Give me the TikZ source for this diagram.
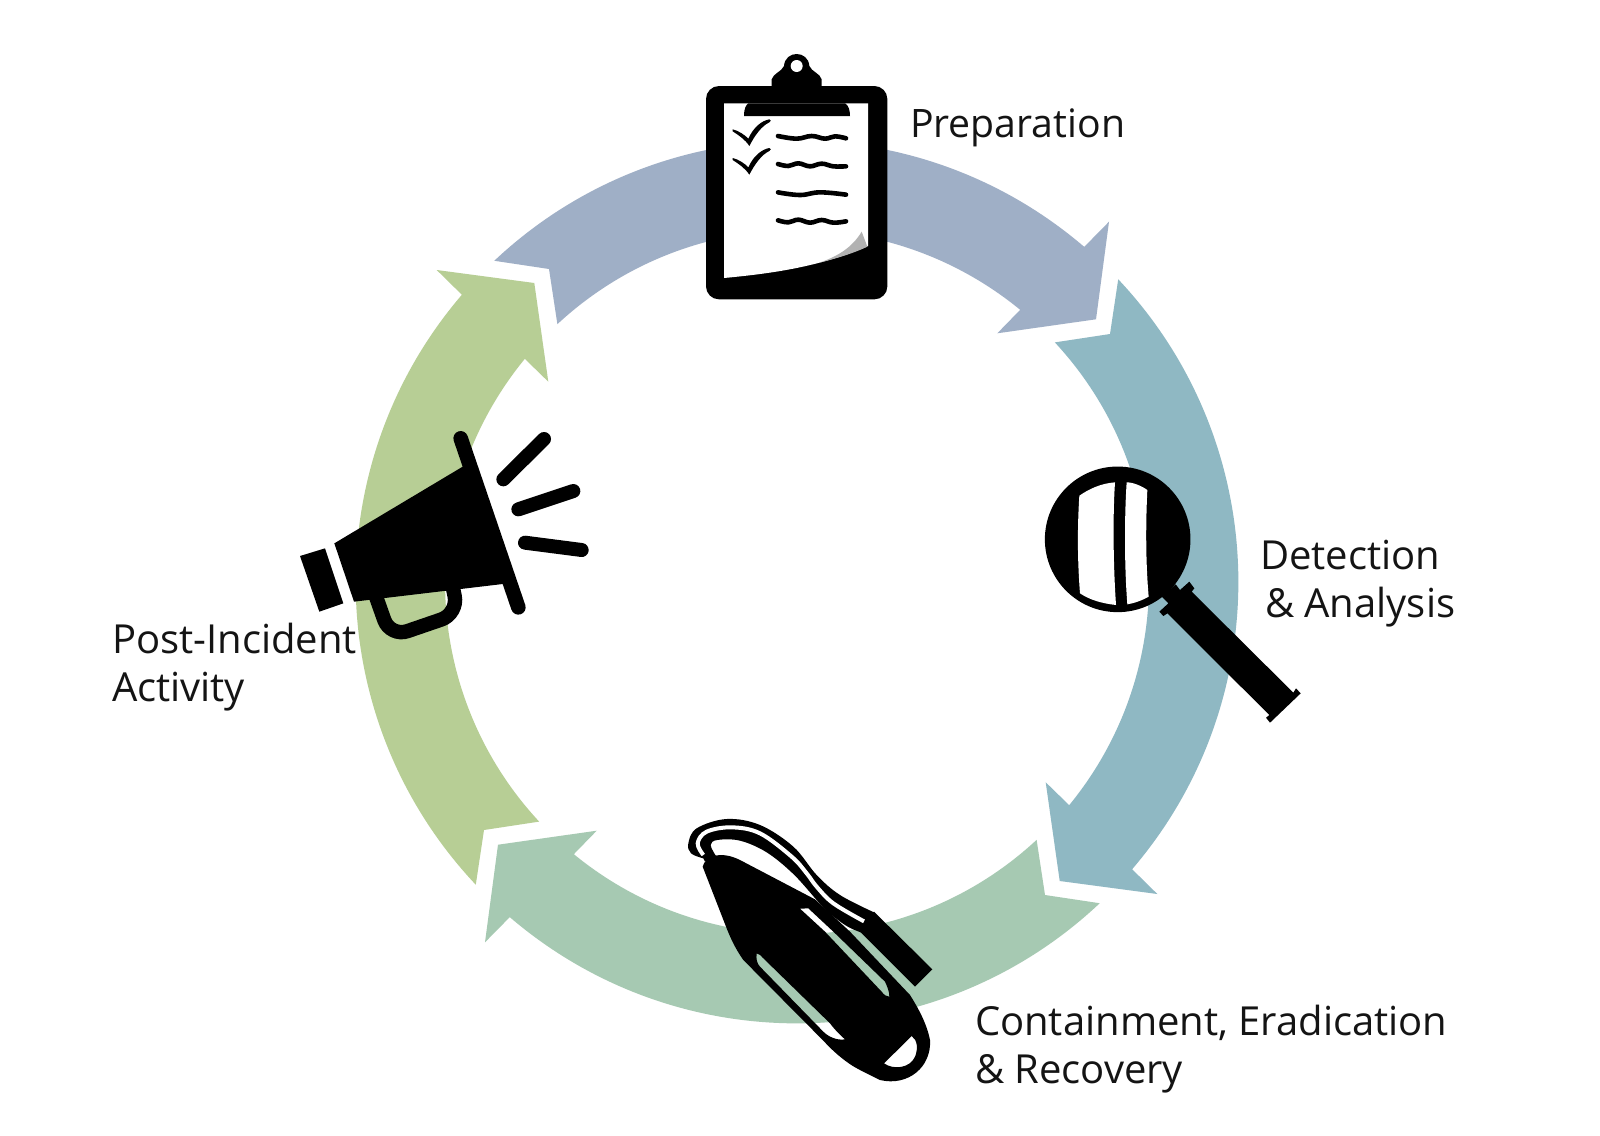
\documentclass[tikz,border=0pt]{standalone}
\usepackage{fontspec}
\setmainfont{Open Sans}
\definecolor{cblue}{HTML}{9FAFC6}
\definecolor{cteal}{HTML}{8FB8C3}
\definecolor{cmint}{HTML}{A6C9B2}
\definecolor{colive}{HTML}{B7CE95}
\tikzset{
  lbl/.style={inner sep=0pt,outer sep=0pt,text=black!92,font=\fontsize{20}{24}\selectfont},
  crop/.style={x=0.166667pt,y=-0.166667pt},
  wave/.style={draw=black,line width=2.3pt,line cap=round,line join=round},
  ray/.style={draw=black,line width=7pt,line cap=round},
}
\newcommand{\ringarrow}[2]{%
  \fill[#2,rotate=#1] (133.3:220.7pt) arc[start angle=133.3,end angle=49.4,radius=220.7pt]
    -- (312,360.3) -- (299,262.7) -- (200.3,248.7) -- (50.65:176pt)
    arc[start angle=50.65,end angle=132.9,radius=176pt] -- (-248,313) -- cycle;}
\begin{document}
\begin{tikzpicture}[x=0.5pt,y=-0.5pt]
\useasboundingbox (0,0) rectangle (1600,1135);
\fill[white] (0,0) rectangle (1600,1135);
% ring
\begin{scope}[shift={(797,582)},y=0.5pt]
  \ringarrow{0}{cblue}
  \ringarrow{-90}{cteal}
  \ringarrow{-180}{cmint}
  \ringarrow{-270}{colive}
\end{scope}
% clipboard
\begin{scope}[shift={(680,40)},crop]
  \fill[black,rounded corners=6.5pt] (78,138) rectangle (622,778);
  \fill[black] (275,140) -- (275,118) .. controls (280,100) and (305,95) .. (312,78)
     .. controls (315,30) and (385,30) .. (388,78)
     .. controls (395,95) and (420,100) .. (425,118) -- (425,140) -- cycle;
  \fill[white] (132,190) -- (564,190) -- (564,618)
     .. controls (420,680) and (280,700) .. (132,714) -- cycle;
  \fill[black!30] (545,575) -- (562,620) .. controls (520,640) and (470,655) .. (418,668)
     .. controls (470,650) and (515,625) .. (545,575) -- cycle;
  \fill[white] (350,78) circle[radius=3pt];
  \fill[black] (192,228) .. controls (192,205) and (198,195) .. (205,190) -- (495,190)
     .. controls (505,195) and (510,210) .. (510,228) -- cycle;
  \foreach \dy in {0,86}{
    \fill[black,yshift=-\dy*0.166667pt] (158,268) .. controls (175,272) and (195,285) .. (205,296)
       .. controls (220,262) and (245,242) .. (268,238)
       .. controls (274,238) and (274,245) .. (268,247)
       .. controls (245,258) and (225,285) .. (208,318)
       .. controls (195,298) and (175,285) .. (158,274) -- cycle;
  }
  \draw[wave] plot[smooth,tension=0.7] coordinates {(294,288) (350,296) (395,288) (435,296) (465,289) (498,295)};
  \draw[wave] plot[smooth,tension=0.7] coordinates {(294,372) (325,378) (355,370) (390,379) (425,371) (460,379) (498,379)};
  \draw[wave] plot[smooth,tension=0.7] coordinates {(294,457) (360,465) (420,457) (498,464)};
  \draw[wave] plot[smooth,tension=0.7] coordinates {(294,541) (325,547) (355,539) (390,548) (425,540) (460,548) (498,544)};
\end{scope}
% magnifier
\begin{scope}[shift={(1030,450)},crop]
  \fill[black] (263,268) circle[radius=36.4pt];
  \fill[black] (437,403) -- (450,420) -- (478,395) -- (493,415) -- (485,425) -- (790,728)
     -- (798,715) -- (812,730) -- (720,818) -- (708,803) -- (718,795) -- (412,490)
     -- (400,498) -- (388,485) -- (415,460) -- (395,440) -- cycle;
  \fill[white] (148,137) .. controls (180,115) and (215,100) .. (255,97)
     .. controls (248,200) and (250,350) .. (258,465)
     .. controls (215,460) and (180,450) .. (150,430)
     .. controls (142,330) and (142,230) .. cycle;
  \fill[white] (290,97) .. controls (310,97) and (335,108) .. (352,120)
     .. controls (347,220) and (347,340) .. (356,440)
     .. controls (335,452) and (310,460) .. (292,463)
     .. controls (283,350) and (283,200) .. cycle;
\end{scope}
% life buoy
\begin{scope}[shift={(660,800)},crop]
  \fill[black,even odd rule] (128,200) .. controls (135,170) and (180,150) .. (240,180)
     -- (465,298) -- (505,335) -- (570,395) -- (750,585)
     .. controls (775,625) and (800,670) .. (810,720)
     .. controls (815,800) and (745,860) .. (660,840)
     -- (600,810) .. controls (560,790) and (520,755) .. (490,722)
     -- (250,480) .. controls (225,445) and (210,410) .. (200,385) -- cycle
     (420,326) -- (445,325) -- (520,395) -- (675,545) .. controls (682,560) and (688,575) .. (688,590)
       .. controls (680,590) and (672,585) .. (665,575) -- (495,395) -- cycle
     (290,460) .. controls (298,462) and (303,467) .. (308,473) -- (510,670)
       .. controls (525,690) and (540,705) .. (555,718)
       .. controls (530,722) and (505,710) .. (490,695) -- (300,500)
       .. controls (290,490) and (288,475) .. cycle
     (755,708) .. controls (772,720) and (775,745) .. (765,770)
       .. controls (750,805) and (700,810) .. (672,790) -- cycle;
  % rope
  \fill[black] plot[smooth,tension=0.6] coordinates {(130,175) (93,160) (85,130) (110,85) (200,57) (300,75) (400,140) (470,225) (540,285) (642,337)}
     -- (640,380) -- (605,398)
     -- plot[smooth,tension=0.6] coordinates {(605,398) (560,378) (505,337) (470,300) (400,222) (320,157) (240,122) (172,120) (152,135) (168,168)}
     -- (135,185) -- cycle;
  \draw[white,line width=2pt,line cap=butt] plot[smooth,tension=0.6] coordinates
     {(130,165) (113,130) (140,95) (215,82) (300,100) (395,170) (440,220) (470,260) (520,310) (612,364)};
  % handle
  \fill[black] (642,335) -- (817,508) -- (765,560) -- (598,393) -- cycle;
\end{scope}
% megaphone
\begin{scope}[shift={(280,410)},crop]
  \fill[black] (60,438) -- (135,415) -- (190,580) -- (118,605) -- cycle;
  \fill[black] (163,400) -- (548,170) -- (575,170) -- (685,520) -- (222,575) -- cycle;
  \draw[black,line width=7.2pt,rounded corners=9pt,line cap=butt] (288,560) -- (331,681) -- (535,611) -- (518,530);
  \draw[black,line width=7.3pt,line cap=round] (542,85) -- (715,592);
  \draw[ray] (670,208) -- (792,87);
  \draw[ray] (715,298) -- (880,243);
  \draw[ray] (735,398) -- (905,420);
\end{scope}
% labels
\node[lbl,anchor=base west,font=\fontsize{19.6}{24}\selectfont] (prep) at (910,137) {Preparation};
\node[lbl,anchor=base west,align=left] (detect) at (1260,617) {Detection\\\hspace*{2.5pt}\& Analysis};
\node[lbl,anchor=base west,align=left] (contain) at (975,1083) {Containment, Eradication\\\& Recovery};
\node[lbl,anchor=base west,align=left] (post) at (112,701) {Post-Incident\\Activity};
\end{tikzpicture}
\end{document}
